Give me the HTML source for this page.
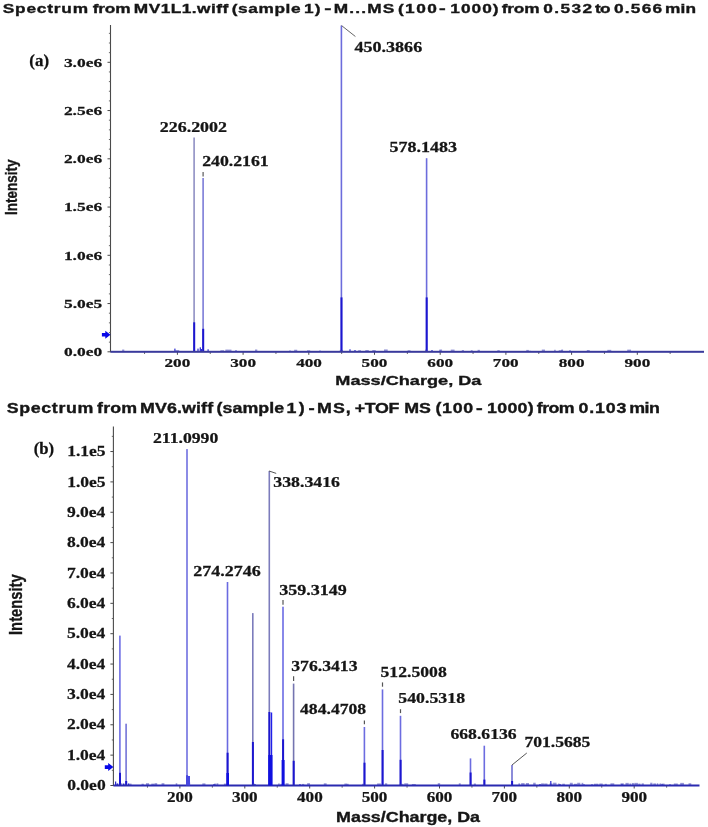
<!DOCTYPE html>
<html><head><meta charset="utf-8"><title>Mass spectra</title>
<style>html,body{margin:0;padding:0;background:#fff;} svg{display:block;} text{stroke-width:0.25px;} text.s{stroke-width:0.35px;}</style></head>
<body><svg width="708" height="827" viewBox="0 0 708 827">
<rect width="708" height="827" fill="#fff"/>
<line x1="110.50" y1="25.00" x2="110.50" y2="352.30" stroke="#4a4a4a" stroke-width="1.1"/>
<line x1="107.50" y1="351.80" x2="110.50" y2="351.80" stroke="#4a4a4a" stroke-width="1"/>
<line x1="108.90" y1="342.15" x2="110.50" y2="342.15" stroke="#5a5a5a" stroke-width="0.9"/>
<line x1="108.90" y1="332.50" x2="110.50" y2="332.50" stroke="#5a5a5a" stroke-width="0.9"/>
<line x1="108.90" y1="322.85" x2="110.50" y2="322.85" stroke="#5a5a5a" stroke-width="0.9"/>
<line x1="108.90" y1="313.20" x2="110.50" y2="313.20" stroke="#5a5a5a" stroke-width="0.9"/>
<line x1="107.50" y1="303.55" x2="110.50" y2="303.55" stroke="#4a4a4a" stroke-width="1"/>
<line x1="108.90" y1="293.90" x2="110.50" y2="293.90" stroke="#5a5a5a" stroke-width="0.9"/>
<line x1="108.90" y1="284.25" x2="110.50" y2="284.25" stroke="#5a5a5a" stroke-width="0.9"/>
<line x1="108.90" y1="274.60" x2="110.50" y2="274.60" stroke="#5a5a5a" stroke-width="0.9"/>
<line x1="108.90" y1="264.95" x2="110.50" y2="264.95" stroke="#5a5a5a" stroke-width="0.9"/>
<line x1="107.50" y1="255.30" x2="110.50" y2="255.30" stroke="#4a4a4a" stroke-width="1"/>
<line x1="108.90" y1="245.65" x2="110.50" y2="245.65" stroke="#5a5a5a" stroke-width="0.9"/>
<line x1="108.90" y1="236.00" x2="110.50" y2="236.00" stroke="#5a5a5a" stroke-width="0.9"/>
<line x1="108.90" y1="226.35" x2="110.50" y2="226.35" stroke="#5a5a5a" stroke-width="0.9"/>
<line x1="108.90" y1="216.70" x2="110.50" y2="216.70" stroke="#5a5a5a" stroke-width="0.9"/>
<line x1="107.50" y1="207.05" x2="110.50" y2="207.05" stroke="#4a4a4a" stroke-width="1"/>
<line x1="108.90" y1="197.40" x2="110.50" y2="197.40" stroke="#5a5a5a" stroke-width="0.9"/>
<line x1="108.90" y1="187.75" x2="110.50" y2="187.75" stroke="#5a5a5a" stroke-width="0.9"/>
<line x1="108.90" y1="178.10" x2="110.50" y2="178.10" stroke="#5a5a5a" stroke-width="0.9"/>
<line x1="108.90" y1="168.45" x2="110.50" y2="168.45" stroke="#5a5a5a" stroke-width="0.9"/>
<line x1="107.50" y1="158.80" x2="110.50" y2="158.80" stroke="#4a4a4a" stroke-width="1"/>
<line x1="108.90" y1="149.15" x2="110.50" y2="149.15" stroke="#5a5a5a" stroke-width="0.9"/>
<line x1="108.90" y1="139.50" x2="110.50" y2="139.50" stroke="#5a5a5a" stroke-width="0.9"/>
<line x1="108.90" y1="129.85" x2="110.50" y2="129.85" stroke="#5a5a5a" stroke-width="0.9"/>
<line x1="108.90" y1="120.20" x2="110.50" y2="120.20" stroke="#5a5a5a" stroke-width="0.9"/>
<line x1="107.50" y1="110.55" x2="110.50" y2="110.55" stroke="#4a4a4a" stroke-width="1"/>
<line x1="108.90" y1="100.90" x2="110.50" y2="100.90" stroke="#5a5a5a" stroke-width="0.9"/>
<line x1="108.90" y1="91.25" x2="110.50" y2="91.25" stroke="#5a5a5a" stroke-width="0.9"/>
<line x1="108.90" y1="81.60" x2="110.50" y2="81.60" stroke="#5a5a5a" stroke-width="0.9"/>
<line x1="108.90" y1="71.95" x2="110.50" y2="71.95" stroke="#5a5a5a" stroke-width="0.9"/>
<line x1="107.50" y1="62.30" x2="110.50" y2="62.30" stroke="#4a4a4a" stroke-width="1"/>
<line x1="108.90" y1="52.65" x2="110.50" y2="52.65" stroke="#5a5a5a" stroke-width="0.9"/>
<line x1="108.90" y1="43.00" x2="110.50" y2="43.00" stroke="#5a5a5a" stroke-width="0.9"/>
<line x1="108.90" y1="33.35" x2="110.50" y2="33.35" stroke="#5a5a5a" stroke-width="0.9"/>
<line x1="144.55" y1="351.80" x2="144.55" y2="354.00" stroke="#5a5a5a" stroke-width="0.9"/>
<line x1="177.40" y1="351.80" x2="177.40" y2="354.80" stroke="#4a4a4a" stroke-width="1"/>
<line x1="210.25" y1="351.80" x2="210.25" y2="354.00" stroke="#5a5a5a" stroke-width="0.9"/>
<line x1="243.10" y1="351.80" x2="243.10" y2="354.80" stroke="#4a4a4a" stroke-width="1"/>
<line x1="275.95" y1="351.80" x2="275.95" y2="354.00" stroke="#5a5a5a" stroke-width="0.9"/>
<line x1="308.80" y1="351.80" x2="308.80" y2="354.80" stroke="#4a4a4a" stroke-width="1"/>
<line x1="341.65" y1="351.80" x2="341.65" y2="354.00" stroke="#5a5a5a" stroke-width="0.9"/>
<line x1="374.50" y1="351.80" x2="374.50" y2="354.80" stroke="#4a4a4a" stroke-width="1"/>
<line x1="407.35" y1="351.80" x2="407.35" y2="354.00" stroke="#5a5a5a" stroke-width="0.9"/>
<line x1="440.20" y1="351.80" x2="440.20" y2="354.80" stroke="#4a4a4a" stroke-width="1"/>
<line x1="473.05" y1="351.80" x2="473.05" y2="354.00" stroke="#5a5a5a" stroke-width="0.9"/>
<line x1="505.90" y1="351.80" x2="505.90" y2="354.80" stroke="#4a4a4a" stroke-width="1"/>
<line x1="538.75" y1="351.80" x2="538.75" y2="354.00" stroke="#5a5a5a" stroke-width="0.9"/>
<line x1="571.60" y1="351.80" x2="571.60" y2="354.80" stroke="#4a4a4a" stroke-width="1"/>
<line x1="604.45" y1="351.80" x2="604.45" y2="354.00" stroke="#5a5a5a" stroke-width="0.9"/>
<line x1="637.30" y1="351.80" x2="637.30" y2="354.80" stroke="#4a4a4a" stroke-width="1"/>
<line x1="670.15" y1="351.80" x2="670.15" y2="354.00" stroke="#5a5a5a" stroke-width="0.9"/>
<rect x="193.30" y="137.50" width="1.60" height="214.30" fill="#9090c4"/>
<rect x="193.20" y="322.30" width="2.00" height="29.50" fill="#1c16d0"/>
<rect x="202.30" y="178.00" width="1.60" height="173.80" fill="#7c7cd8"/>
<rect x="202.20" y="328.80" width="2.00" height="23.00" fill="#1c16d0"/>
<rect x="340.60" y="25.50" width="1.60" height="326.30" fill="#6c6cdc"/>
<rect x="340.50" y="297.40" width="2.00" height="54.40" fill="#1c16d0"/>
<rect x="425.80" y="158.20" width="1.60" height="193.60" fill="#6c6cdc"/>
<rect x="425.70" y="297.40" width="2.00" height="54.40" fill="#1c16d0"/>
<rect x="122.14" y="349.55" width="2.15" height="2.25" fill="#3c3cb4" fill-opacity="0.55"/>
<rect x="175.34" y="350.10" width="3.91" height="1.70" fill="#3c3cb4" fill-opacity="0.55"/>
<rect x="220.38" y="350.24" width="3.63" height="1.56" fill="#3c3cb4" fill-opacity="0.55"/>
<rect x="225.35" y="349.58" width="2.53" height="2.22" fill="#3c3cb4" fill-opacity="0.55"/>
<rect x="227.80" y="349.61" width="3.68" height="2.19" fill="#3c3cb4" fill-opacity="0.55"/>
<rect x="255.02" y="349.52" width="2.28" height="2.28" fill="#3c3cb4" fill-opacity="0.55"/>
<rect x="294.16" y="349.75" width="3.08" height="2.05" fill="#3c3cb4" fill-opacity="0.55"/>
<rect x="307.01" y="350.25" width="3.19" height="1.55" fill="#3c3cb4" fill-opacity="0.55"/>
<rect x="339.76" y="349.91" width="3.25" height="1.89" fill="#3c3cb4" fill-opacity="0.55"/>
<rect x="358.19" y="350.19" width="2.82" height="1.61" fill="#3c3cb4" fill-opacity="0.55"/>
<rect x="365.28" y="350.05" width="3.52" height="1.75" fill="#3c3cb4" fill-opacity="0.55"/>
<rect x="372.24" y="350.04" width="3.48" height="1.76" fill="#3c3cb4" fill-opacity="0.55"/>
<rect x="384.00" y="349.45" width="3.70" height="2.35" fill="#3c3cb4" fill-opacity="0.55"/>
<rect x="407.57" y="350.24" width="2.97" height="1.56" fill="#3c3cb4" fill-opacity="0.55"/>
<rect x="425.07" y="349.63" width="1.93" height="2.17" fill="#3c3cb4" fill-opacity="0.55"/>
<rect x="439.38" y="349.52" width="2.69" height="2.28" fill="#3c3cb4" fill-opacity="0.55"/>
<rect x="450.77" y="349.59" width="3.80" height="2.21" fill="#3c3cb4" fill-opacity="0.55"/>
<rect x="461.80" y="350.06" width="2.17" height="1.74" fill="#3c3cb4" fill-opacity="0.55"/>
<rect x="470.81" y="350.19" width="1.81" height="1.61" fill="#3c3cb4" fill-opacity="0.55"/>
<rect x="477.57" y="349.85" width="2.29" height="1.95" fill="#3c3cb4" fill-opacity="0.55"/>
<rect x="497.33" y="350.14" width="2.43" height="1.66" fill="#3c3cb4" fill-opacity="0.55"/>
<rect x="526.29" y="349.92" width="2.56" height="1.88" fill="#3c3cb4" fill-opacity="0.55"/>
<rect x="541.81" y="349.57" width="3.16" height="2.23" fill="#3c3cb4" fill-opacity="0.55"/>
<rect x="554.17" y="349.77" width="1.51" height="2.03" fill="#3c3cb4" fill-opacity="0.55"/>
<rect x="558.73" y="350.21" width="3.70" height="1.59" fill="#3c3cb4" fill-opacity="0.55"/>
<rect x="561.27" y="349.54" width="1.80" height="2.26" fill="#3c3cb4" fill-opacity="0.55"/>
<rect x="586.81" y="350.01" width="2.91" height="1.79" fill="#3c3cb4" fill-opacity="0.55"/>
<rect x="607.31" y="349.85" width="3.93" height="1.95" fill="#3c3cb4" fill-opacity="0.55"/>
<rect x="627.23" y="349.63" width="3.79" height="2.17" fill="#3c3cb4" fill-opacity="0.55"/>
<rect x="174.30" y="348.60" width="1.20" height="3.20" fill="#2a2ad0"/>
<rect x="197.40" y="348.60" width="1.20" height="3.20" fill="#2a2ad0"/>
<rect x="199.70" y="347.30" width="1.20" height="4.50" fill="#2a2ad0"/>
<rect x="200.90" y="349.00" width="1.20" height="2.80" fill="#2a2ad0"/>
<rect x="207.50" y="349.30" width="1.20" height="2.50" fill="#2a2ad0"/>
<rect x="235.40" y="350.30" width="1.20" height="1.50" fill="#2a2ad0"/>
<rect x="289.40" y="350.60" width="1.20" height="1.20" fill="#2a2ad0"/>
<rect x="319.40" y="350.60" width="1.20" height="1.20" fill="#2a2ad0"/>
<rect x="349.40" y="349.30" width="1.20" height="2.50" fill="#2a2ad0"/>
<rect x="354.40" y="350.00" width="1.20" height="1.80" fill="#2a2ad0"/>
<rect x="431.40" y="350.00" width="1.20" height="1.80" fill="#2a2ad0"/>
<rect x="439.40" y="350.60" width="1.20" height="1.20" fill="#2a2ad0"/>
<rect x="529.40" y="350.80" width="1.20" height="1.00" fill="#2a2ad0"/>
<rect x="569.40" y="350.40" width="1.20" height="1.40" fill="#2a2ad0"/>
<rect x="110.50" y="350.80" width="593.50" height="2.00" fill="#3a3a9c"/>
<path d="M101.9,333.0 H105.3 V330.8 L110.5,334.8 L105.3,338.8 V336.6 H101.9 Z" fill="#0808e8"/>
<line x1="203.10" y1="172.00" x2="203.10" y2="176.60" stroke="#666" stroke-width="1.3"/>
<line x1="341.60" y1="25.60" x2="355.40" y2="36.50" stroke="#666" stroke-width="1.0"/>
<line x1="113.40" y1="426.40" x2="113.40" y2="786.00" stroke="#4a4a4a" stroke-width="1.1"/>
<line x1="110.40" y1="785.50" x2="113.40" y2="785.50" stroke="#4a4a4a" stroke-width="1"/>
<line x1="111.80" y1="770.32" x2="113.40" y2="770.32" stroke="#5a5a5a" stroke-width="0.9"/>
<line x1="110.40" y1="755.14" x2="113.40" y2="755.14" stroke="#4a4a4a" stroke-width="1"/>
<line x1="111.80" y1="739.96" x2="113.40" y2="739.96" stroke="#5a5a5a" stroke-width="0.9"/>
<line x1="110.40" y1="724.78" x2="113.40" y2="724.78" stroke="#4a4a4a" stroke-width="1"/>
<line x1="111.80" y1="709.60" x2="113.40" y2="709.60" stroke="#5a5a5a" stroke-width="0.9"/>
<line x1="110.40" y1="694.42" x2="113.40" y2="694.42" stroke="#4a4a4a" stroke-width="1"/>
<line x1="111.80" y1="679.24" x2="113.40" y2="679.24" stroke="#5a5a5a" stroke-width="0.9"/>
<line x1="110.40" y1="664.06" x2="113.40" y2="664.06" stroke="#4a4a4a" stroke-width="1"/>
<line x1="111.80" y1="648.88" x2="113.40" y2="648.88" stroke="#5a5a5a" stroke-width="0.9"/>
<line x1="110.40" y1="633.70" x2="113.40" y2="633.70" stroke="#4a4a4a" stroke-width="1"/>
<line x1="111.80" y1="618.52" x2="113.40" y2="618.52" stroke="#5a5a5a" stroke-width="0.9"/>
<line x1="110.40" y1="603.34" x2="113.40" y2="603.34" stroke="#4a4a4a" stroke-width="1"/>
<line x1="111.80" y1="588.16" x2="113.40" y2="588.16" stroke="#5a5a5a" stroke-width="0.9"/>
<line x1="110.40" y1="572.98" x2="113.40" y2="572.98" stroke="#4a4a4a" stroke-width="1"/>
<line x1="111.80" y1="557.80" x2="113.40" y2="557.80" stroke="#5a5a5a" stroke-width="0.9"/>
<line x1="110.40" y1="542.62" x2="113.40" y2="542.62" stroke="#4a4a4a" stroke-width="1"/>
<line x1="111.80" y1="527.44" x2="113.40" y2="527.44" stroke="#5a5a5a" stroke-width="0.9"/>
<line x1="110.40" y1="512.26" x2="113.40" y2="512.26" stroke="#4a4a4a" stroke-width="1"/>
<line x1="111.80" y1="497.08" x2="113.40" y2="497.08" stroke="#5a5a5a" stroke-width="0.9"/>
<line x1="110.40" y1="481.90" x2="113.40" y2="481.90" stroke="#4a4a4a" stroke-width="1"/>
<line x1="111.80" y1="466.72" x2="113.40" y2="466.72" stroke="#5a5a5a" stroke-width="0.9"/>
<line x1="110.40" y1="451.54" x2="113.40" y2="451.54" stroke="#4a4a4a" stroke-width="1"/>
<line x1="111.80" y1="436.36" x2="113.40" y2="436.36" stroke="#5a5a5a" stroke-width="0.9"/>
<line x1="147.45" y1="785.50" x2="147.45" y2="787.70" stroke="#5a5a5a" stroke-width="0.9"/>
<line x1="179.90" y1="785.50" x2="179.90" y2="788.50" stroke="#4a4a4a" stroke-width="1"/>
<line x1="212.35" y1="785.50" x2="212.35" y2="787.70" stroke="#5a5a5a" stroke-width="0.9"/>
<line x1="244.80" y1="785.50" x2="244.80" y2="788.50" stroke="#4a4a4a" stroke-width="1"/>
<line x1="277.25" y1="785.50" x2="277.25" y2="787.70" stroke="#5a5a5a" stroke-width="0.9"/>
<line x1="309.70" y1="785.50" x2="309.70" y2="788.50" stroke="#4a4a4a" stroke-width="1"/>
<line x1="342.15" y1="785.50" x2="342.15" y2="787.70" stroke="#5a5a5a" stroke-width="0.9"/>
<line x1="374.60" y1="785.50" x2="374.60" y2="788.50" stroke="#4a4a4a" stroke-width="1"/>
<line x1="407.05" y1="785.50" x2="407.05" y2="787.70" stroke="#5a5a5a" stroke-width="0.9"/>
<line x1="439.50" y1="785.50" x2="439.50" y2="788.50" stroke="#4a4a4a" stroke-width="1"/>
<line x1="471.95" y1="785.50" x2="471.95" y2="787.70" stroke="#5a5a5a" stroke-width="0.9"/>
<line x1="504.40" y1="785.50" x2="504.40" y2="788.50" stroke="#4a4a4a" stroke-width="1"/>
<line x1="536.85" y1="785.50" x2="536.85" y2="787.70" stroke="#5a5a5a" stroke-width="0.9"/>
<line x1="569.30" y1="785.50" x2="569.30" y2="788.50" stroke="#4a4a4a" stroke-width="1"/>
<line x1="601.75" y1="785.50" x2="601.75" y2="787.70" stroke="#5a5a5a" stroke-width="0.9"/>
<line x1="634.20" y1="785.50" x2="634.20" y2="788.50" stroke="#4a4a4a" stroke-width="1"/>
<line x1="666.65" y1="785.50" x2="666.65" y2="787.70" stroke="#5a5a5a" stroke-width="0.9"/>
<rect x="119.10" y="635.60" width="1.60" height="149.90" fill="#6e6ee4"/>
<rect x="119.00" y="772.80" width="2.00" height="12.70" fill="#1c16d0"/>
<rect x="125.30" y="723.70" width="1.60" height="61.80" fill="#7474d8"/>
<rect x="125.20" y="781.00" width="2.00" height="4.50" fill="#1c16d0"/>
<rect x="186.20" y="449.10" width="1.60" height="336.40" fill="#7070e0"/>
<rect x="186.10" y="775.50" width="2.00" height="10.00" fill="#1c16d0"/>
<rect x="226.70" y="582.00" width="1.60" height="203.50" fill="#6a6ae0"/>
<rect x="226.60" y="752.70" width="2.00" height="32.80" fill="#1c16d0"/>
<rect x="252.00" y="613.10" width="1.60" height="172.40" fill="#7c7cbc"/>
<rect x="251.90" y="742.00" width="2.00" height="43.50" fill="#1c16d0"/>
<rect x="268.50" y="471.00" width="1.60" height="314.50" fill="#7c7cbc"/>
<rect x="268.40" y="712.00" width="2.00" height="73.50" fill="#1c16d0"/>
<rect x="282.20" y="606.70" width="1.60" height="178.80" fill="#6c6ce4"/>
<rect x="282.10" y="739.30" width="2.00" height="46.20" fill="#1c16d0"/>
<rect x="292.80" y="683.60" width="1.60" height="101.90" fill="#7474b0"/>
<rect x="292.70" y="760.80" width="2.00" height="24.70" fill="#1c16d0"/>
<rect x="363.60" y="727.00" width="1.60" height="58.50" fill="#6c6ce0"/>
<rect x="363.50" y="762.70" width="2.00" height="22.80" fill="#1c16d0"/>
<rect x="381.70" y="689.40" width="1.60" height="96.10" fill="#6c6ce0"/>
<rect x="381.60" y="750.00" width="2.00" height="35.50" fill="#1c16d0"/>
<rect x="399.70" y="715.80" width="1.60" height="69.70" fill="#6c6ce0"/>
<rect x="399.60" y="759.80" width="2.00" height="25.70" fill="#1c16d0"/>
<rect x="469.70" y="758.40" width="1.60" height="27.10" fill="#6c6ce0"/>
<rect x="469.60" y="772.50" width="2.00" height="13.00" fill="#1c16d0"/>
<rect x="483.50" y="745.70" width="1.60" height="39.80" fill="#6c6ce0"/>
<rect x="483.40" y="779.60" width="2.00" height="5.90" fill="#1c16d0"/>
<rect x="511.20" y="765.00" width="1.60" height="20.50" fill="#7070d0"/>
<rect x="511.10" y="781.00" width="2.00" height="4.50" fill="#1c16d0"/>
<rect x="115.40" y="783.67" width="3.13" height="1.83" fill="#3c3cb4" fill-opacity="0.55"/>
<rect x="120.71" y="783.26" width="1.59" height="2.24" fill="#3c3cb4" fill-opacity="0.55"/>
<rect x="124.02" y="783.74" width="2.56" height="1.76" fill="#3c3cb4" fill-opacity="0.55"/>
<rect x="128.50" y="783.59" width="3.07" height="1.91" fill="#3c3cb4" fill-opacity="0.55"/>
<rect x="141.54" y="783.71" width="2.27" height="1.79" fill="#3c3cb4" fill-opacity="0.55"/>
<rect x="145.99" y="783.17" width="3.10" height="2.33" fill="#3c3cb4" fill-opacity="0.55"/>
<rect x="151.29" y="783.61" width="3.20" height="1.89" fill="#3c3cb4" fill-opacity="0.55"/>
<rect x="154.57" y="783.16" width="2.63" height="2.34" fill="#3c3cb4" fill-opacity="0.55"/>
<rect x="161.57" y="783.18" width="2.81" height="2.32" fill="#3c3cb4" fill-opacity="0.55"/>
<rect x="175.69" y="783.28" width="1.60" height="2.22" fill="#3c3cb4" fill-opacity="0.55"/>
<rect x="202.33" y="783.37" width="3.12" height="2.13" fill="#3c3cb4" fill-opacity="0.55"/>
<rect x="214.17" y="783.58" width="1.92" height="1.92" fill="#3c3cb4" fill-opacity="0.55"/>
<rect x="216.52" y="783.31" width="1.82" height="2.19" fill="#3c3cb4" fill-opacity="0.55"/>
<rect x="223.88" y="783.60" width="2.87" height="1.90" fill="#3c3cb4" fill-opacity="0.55"/>
<rect x="252.41" y="783.62" width="2.42" height="1.88" fill="#3c3cb4" fill-opacity="0.55"/>
<rect x="278.12" y="783.43" width="1.66" height="2.07" fill="#3c3cb4" fill-opacity="0.55"/>
<rect x="280.33" y="783.85" width="2.35" height="1.65" fill="#3c3cb4" fill-opacity="0.55"/>
<rect x="282.48" y="783.86" width="1.75" height="1.64" fill="#3c3cb4" fill-opacity="0.55"/>
<rect x="285.57" y="783.21" width="3.04" height="2.29" fill="#3c3cb4" fill-opacity="0.55"/>
<rect x="301.86" y="783.91" width="2.36" height="1.59" fill="#3c3cb4" fill-opacity="0.55"/>
<rect x="307.14" y="783.14" width="2.82" height="2.36" fill="#3c3cb4" fill-opacity="0.55"/>
<rect x="323.79" y="783.31" width="2.83" height="2.19" fill="#3c3cb4" fill-opacity="0.55"/>
<rect x="344.38" y="783.53" width="2.39" height="1.97" fill="#3c3cb4" fill-opacity="0.55"/>
<rect x="346.47" y="783.75" width="2.15" height="1.75" fill="#3c3cb4" fill-opacity="0.55"/>
<rect x="361.95" y="783.80" width="1.99" height="1.70" fill="#3c3cb4" fill-opacity="0.55"/>
<rect x="377.10" y="783.41" width="3.77" height="2.09" fill="#3c3cb4" fill-opacity="0.55"/>
<rect x="384.88" y="783.29" width="2.33" height="2.21" fill="#3c3cb4" fill-opacity="0.55"/>
<rect x="399.82" y="783.86" width="3.76" height="1.64" fill="#3c3cb4" fill-opacity="0.55"/>
<rect x="404.24" y="783.26" width="3.95" height="2.24" fill="#3c3cb4" fill-opacity="0.55"/>
<rect x="411.86" y="783.99" width="3.93" height="1.51" fill="#3c3cb4" fill-opacity="0.55"/>
<rect x="437.75" y="783.18" width="2.38" height="2.32" fill="#3c3cb4" fill-opacity="0.55"/>
<rect x="458.79" y="783.28" width="1.93" height="2.22" fill="#3c3cb4" fill-opacity="0.55"/>
<rect x="473.79" y="783.50" width="2.12" height="2.00" fill="#3c3cb4" fill-opacity="0.55"/>
<rect x="518.42" y="783.33" width="1.68" height="2.17" fill="#3c3cb4" fill-opacity="0.55"/>
<rect x="521.15" y="783.07" width="3.46" height="2.43" fill="#3c3cb4" fill-opacity="0.55"/>
<rect x="525.84" y="783.01" width="3.15" height="2.49" fill="#3c3cb4" fill-opacity="0.55"/>
<rect x="533.17" y="782.74" width="2.50" height="2.76" fill="#3c3cb4" fill-opacity="0.55"/>
<rect x="541.13" y="783.35" width="2.79" height="2.15" fill="#3c3cb4" fill-opacity="0.55"/>
<rect x="544.15" y="783.48" width="3.31" height="2.02" fill="#3c3cb4" fill-opacity="0.55"/>
<rect x="549.52" y="783.46" width="3.06" height="2.04" fill="#3c3cb4" fill-opacity="0.55"/>
<rect x="553.06" y="782.70" width="3.47" height="2.80" fill="#3c3cb4" fill-opacity="0.55"/>
<rect x="557.98" y="783.54" width="1.60" height="1.96" fill="#3c3cb4" fill-opacity="0.55"/>
<rect x="562.31" y="783.70" width="2.56" height="1.80" fill="#3c3cb4" fill-opacity="0.55"/>
<rect x="569.82" y="782.77" width="2.93" height="2.73" fill="#3c3cb4" fill-opacity="0.55"/>
<rect x="573.93" y="783.78" width="3.22" height="1.72" fill="#3c3cb4" fill-opacity="0.55"/>
<rect x="577.20" y="782.75" width="3.09" height="2.75" fill="#3c3cb4" fill-opacity="0.55"/>
<rect x="581.61" y="782.85" width="1.67" height="2.65" fill="#3c3cb4" fill-opacity="0.55"/>
<rect x="593.99" y="783.70" width="2.82" height="1.80" fill="#3c3cb4" fill-opacity="0.55"/>
<rect x="596.71" y="783.66" width="1.63" height="1.84" fill="#3c3cb4" fill-opacity="0.55"/>
<rect x="599.31" y="783.49" width="3.40" height="2.01" fill="#3c3cb4" fill-opacity="0.55"/>
<rect x="604.72" y="783.83" width="2.13" height="1.67" fill="#3c3cb4" fill-opacity="0.55"/>
<rect x="610.42" y="783.29" width="3.84" height="2.21" fill="#3c3cb4" fill-opacity="0.55"/>
<rect x="620.53" y="783.26" width="3.22" height="2.24" fill="#3c3cb4" fill-opacity="0.55"/>
<rect x="625.48" y="782.88" width="3.27" height="2.62" fill="#3c3cb4" fill-opacity="0.55"/>
<rect x="629.39" y="783.44" width="1.64" height="2.06" fill="#3c3cb4" fill-opacity="0.55"/>
<rect x="631.78" y="782.98" width="2.14" height="2.52" fill="#3c3cb4" fill-opacity="0.55"/>
<rect x="634.27" y="782.87" width="3.68" height="2.63" fill="#3c3cb4" fill-opacity="0.55"/>
<rect x="638.28" y="783.57" width="2.23" height="1.93" fill="#3c3cb4" fill-opacity="0.55"/>
<rect x="641.66" y="783.33" width="2.16" height="2.17" fill="#3c3cb4" fill-opacity="0.55"/>
<rect x="650.19" y="782.72" width="2.27" height="2.78" fill="#3c3cb4" fill-opacity="0.55"/>
<rect x="653.26" y="783.40" width="2.69" height="2.10" fill="#3c3cb4" fill-opacity="0.55"/>
<rect x="656.76" y="783.26" width="1.51" height="2.24" fill="#3c3cb4" fill-opacity="0.55"/>
<rect x="659.56" y="783.38" width="1.60" height="2.12" fill="#3c3cb4" fill-opacity="0.55"/>
<rect x="661.62" y="783.58" width="2.96" height="1.92" fill="#3c3cb4" fill-opacity="0.55"/>
<rect x="673.82" y="783.47" width="3.96" height="2.03" fill="#3c3cb4" fill-opacity="0.55"/>
<rect x="680.20" y="782.87" width="3.73" height="2.63" fill="#3c3cb4" fill-opacity="0.55"/>
<rect x="688.52" y="783.24" width="2.76" height="2.26" fill="#3c3cb4" fill-opacity="0.55"/>
<rect x="115.00" y="781.50" width="1.20" height="4.00" fill="#2a2ad0"/>
<rect x="116.90" y="783.50" width="1.20" height="2.00" fill="#2a2ad0"/>
<rect x="122.90" y="783.50" width="1.20" height="2.00" fill="#2a2ad0"/>
<rect x="127.90" y="783.50" width="1.20" height="2.00" fill="#2a2ad0"/>
<rect x="188.90" y="782.50" width="1.20" height="3.00" fill="#2a2ad0"/>
<rect x="213.40" y="784.00" width="1.20" height="1.50" fill="#2a2ad0"/>
<rect x="254.40" y="784.00" width="1.20" height="1.50" fill="#2a2ad0"/>
<rect x="299.40" y="784.00" width="1.20" height="1.50" fill="#2a2ad0"/>
<rect x="539.40" y="784.00" width="1.20" height="1.50" fill="#2a2ad0"/>
<rect x="550.20" y="781.00" width="1.20" height="4.50" fill="#2a2ad0"/>
<rect x="559.40" y="784.00" width="1.20" height="1.50" fill="#2a2ad0"/>
<rect x="583.40" y="784.30" width="1.20" height="1.20" fill="#2a2ad0"/>
<rect x="591.40" y="784.30" width="1.20" height="1.20" fill="#2a2ad0"/>
<rect x="621.40" y="784.30" width="1.20" height="1.20" fill="#2a2ad0"/>
<rect x="661.40" y="784.30" width="1.20" height="1.20" fill="#2a2ad0"/>
<rect x="669.40" y="784.30" width="1.20" height="1.20" fill="#2a2ad0"/>
<rect x="113.40" y="784.50" width="586.10" height="2.00" fill="#2a2ab0"/>
<path d="M104.8,765.3 H108.2 V763.1 L113.4,767.1 L108.2,771.1 V768.9 H104.8 Z" fill="#0808e8"/>
<rect x="270.90" y="712.50" width="1.30" height="73.00" fill="#2020e8"/>
<rect x="268.30" y="755.00" width="4.20" height="30.50" fill="#1010e0"/>
<rect x="281.60" y="760.00" width="3.00" height="25.50" fill="#1010e0"/>
<rect x="186.00" y="776.00" width="4.00" height="9.50" fill="#4848e0"/>
<rect x="226.40" y="773.00" width="2.60" height="12.50" fill="#1010e0"/>
<line x1="283.00" y1="599.90" x2="283.00" y2="604.70" stroke="#555" stroke-width="1.2"/>
<line x1="364.40" y1="720.50" x2="364.40" y2="724.30" stroke="#555" stroke-width="1.2"/>
<line x1="382.50" y1="682.40" x2="382.50" y2="686.70" stroke="#555" stroke-width="1.2"/>
<line x1="400.50" y1="709.20" x2="400.50" y2="713.10" stroke="#555" stroke-width="1.2"/>
<line x1="293.60" y1="676.20" x2="293.60" y2="680.90" stroke="#555" stroke-width="1.2"/>
<line x1="269.10" y1="471.00" x2="276.20" y2="473.40" stroke="#555" stroke-width="1.0"/>
<line x1="512.00" y1="765.00" x2="526.80" y2="753.00" stroke="#555" stroke-width="1.0"/>
<text transform="translate(2.70,12.70) scale(1.3000,1)" font-family='"Liberation Sans", Arial, sans-serif' font-weight="bold" font-size="13.30" letter-spacing="0.629" class="s" fill="#161616" stroke="#161616">Spectrum</text>
<text transform="translate(92.70,12.70) scale(1.3000,1)" font-family='"Liberation Sans", Arial, sans-serif' font-weight="bold" font-size="13.30" letter-spacing="-0.142" class="s" fill="#161616" stroke="#161616">from</text>
<text transform="translate(133.84,12.70) scale(1.3000,1)" font-family='"Liberation Sans", Arial, sans-serif' font-weight="bold" font-size="13.30" letter-spacing="0.361" class="s" fill="#161616" stroke="#161616">MV1L1.wiff</text>
<text transform="translate(231.74,12.70) scale(1.3000,1)" font-family='"Liberation Sans", Arial, sans-serif' font-weight="bold" font-size="13.30" letter-spacing="0.463" class="s" fill="#161616" stroke="#161616">(sample</text>
<text transform="translate(304.11,12.70) scale(1.3000,1)" font-family='"Liberation Sans", Arial, sans-serif' font-weight="bold" font-size="13.30" letter-spacing="0.751" class="s" fill="#161616" stroke="#161616">1)</text>
<text transform="translate(324.25,12.70) scale(1.6287,1)" font-family='"Liberation Sans", Arial, sans-serif' font-weight="bold" font-size="13.30" letter-spacing="0.000" class="s" fill="#161616" stroke="#161616">-</text>
<text transform="translate(333.64,12.70) scale(1.3000,1)" font-family='"Liberation Sans", Arial, sans-serif' font-weight="bold" font-size="13.30" letter-spacing="0.920" class="s" fill="#161616" stroke="#161616">M...MS</text>
<text transform="translate(397.94,12.70) scale(1.3000,1)" font-family='"Liberation Sans", Arial, sans-serif' font-weight="bold" font-size="13.30" letter-spacing="1.094" class="s" fill="#161616" stroke="#161616">(100</text>
<text transform="translate(439.12,12.70) scale(1.5102,1)" font-family='"Liberation Sans", Arial, sans-serif' font-weight="bold" font-size="13.30" letter-spacing="0.000" class="s" fill="#161616" stroke="#161616">-</text>
<text transform="translate(450.31,12.70) scale(1.3000,1)" font-family='"Liberation Sans", Arial, sans-serif' font-weight="bold" font-size="13.30" letter-spacing="0.794" class="s" fill="#161616" stroke="#161616">1000)</text>
<text transform="translate(501.70,12.70) scale(1.3000,1)" font-family='"Liberation Sans", Arial, sans-serif' font-weight="bold" font-size="13.30" letter-spacing="-0.142" class="s" fill="#161616" stroke="#161616">from</text>
<text transform="translate(543.22,12.70) scale(1.3000,1)" font-family='"Liberation Sans", Arial, sans-serif' font-weight="bold" font-size="13.30" letter-spacing="1.079" class="s" fill="#161616" stroke="#161616">0.532</text>
<text transform="translate(594.89,12.70) scale(1.3000,1)" font-family='"Liberation Sans", Arial, sans-serif' font-weight="bold" font-size="13.30" letter-spacing="-0.487" class="s" fill="#161616" stroke="#161616">to</text>
<text transform="translate(613.92,12.70) scale(1.3000,1)" font-family='"Liberation Sans", Arial, sans-serif' font-weight="bold" font-size="13.30" letter-spacing="0.950" class="s" fill="#161616" stroke="#161616">0.566</text>
<text transform="translate(665.06,12.70) scale(1.3000,1)" font-family='"Liberation Sans", Arial, sans-serif' font-weight="bold" font-size="13.30" letter-spacing="0.105" class="s" fill="#161616" stroke="#161616">min</text>
<text transform="translate(6.69,413.00) scale(1.2200,1)" font-family='"Liberation Sans", Arial, sans-serif' font-weight="bold" font-size="14.60" letter-spacing="0.534" class="s" fill="#161616" stroke="#161616">Spectrum</text>
<text transform="translate(97.10,413.00) scale(1.2200,1)" font-family='"Liberation Sans", Arial, sans-serif' font-weight="bold" font-size="14.60" letter-spacing="0.090" class="s" fill="#161616" stroke="#161616">from</text>
<text transform="translate(140.11,413.00) scale(1.2200,1)" font-family='"Liberation Sans", Arial, sans-serif' font-weight="bold" font-size="14.60" letter-spacing="0.096" class="s" fill="#161616" stroke="#161616">MV6.wiff</text>
<text transform="translate(216.61,413.00) scale(1.2200,1)" font-family='"Liberation Sans", Arial, sans-serif' font-weight="bold" font-size="14.60" letter-spacing="0.024" class="s" fill="#161616" stroke="#161616">(sample</text>
<text transform="translate(286.58,413.00) scale(1.2200,1)" font-family='"Liberation Sans", Arial, sans-serif' font-weight="bold" font-size="14.60" letter-spacing="1.862" class="s" fill="#161616" stroke="#161616">1)</text>
<text transform="translate(308.58,413.00) scale(1.2679,1)" font-family='"Liberation Sans", Arial, sans-serif' font-weight="bold" font-size="14.60" letter-spacing="0.000" class="s" fill="#161616" stroke="#161616">-</text>
<text transform="translate(317.01,413.00) scale(1.2200,1)" font-family='"Liberation Sans", Arial, sans-serif' font-weight="bold" font-size="14.60" letter-spacing="0.867" class="s" fill="#161616" stroke="#161616">MS,</text>
<text transform="translate(354.75,413.00) scale(1.2200,1)" font-family='"Liberation Sans", Arial, sans-serif' font-weight="bold" font-size="14.60" letter-spacing="-0.251" class="s" fill="#161616" stroke="#161616">+TOF</text>
<text transform="translate(404.31,413.00) scale(1.2200,1)" font-family='"Liberation Sans", Arial, sans-serif' font-weight="bold" font-size="14.60" letter-spacing="-0.189" class="s" fill="#161616" stroke="#161616">MS</text>
<text transform="translate(435.51,413.00) scale(1.2200,1)" font-family='"Liberation Sans", Arial, sans-serif' font-weight="bold" font-size="14.60" letter-spacing="0.565" class="s" fill="#161616" stroke="#161616">(100</text>
<text transform="translate(475.92,413.00) scale(1.3758,1)" font-family='"Liberation Sans", Arial, sans-serif' font-weight="bold" font-size="14.60" letter-spacing="0.000" class="s" fill="#161616" stroke="#161616">-</text>
<text transform="translate(486.98,413.00) scale(1.2200,1)" font-family='"Liberation Sans", Arial, sans-serif' font-weight="bold" font-size="14.60" letter-spacing="0.257" class="s" fill="#161616" stroke="#161616">1000)</text>
<text transform="translate(536.80,413.00) scale(1.2200,1)" font-family='"Liberation Sans", Arial, sans-serif' font-weight="bold" font-size="14.60" letter-spacing="-0.457" class="s" fill="#161616" stroke="#161616">from</text>
<text transform="translate(578.40,413.00) scale(1.2200,1)" font-family='"Liberation Sans", Arial, sans-serif' font-weight="bold" font-size="14.60" letter-spacing="0.692" class="s" fill="#161616" stroke="#161616">0.103</text>
<text transform="translate(629.13,413.00) scale(1.2200,1)" font-family='"Liberation Sans", Arial, sans-serif' font-weight="bold" font-size="14.60" letter-spacing="-0.405" class="s" fill="#161616" stroke="#161616">min</text>
<text transform="translate(29.36,65.90) scale(1.0704,1)" font-family='"Liberation Serif", "Times New Roman", serif' font-weight="bold" font-size="15.77" fill="#111" stroke="#111">(a)</text>
<text transform="translate(33.66,453.70) scale(1.0285,1)" font-family='"Liberation Serif", "Times New Roman", serif' font-weight="bold" font-size="16.29" fill="#111" stroke="#111">(b)</text>
<text transform="translate(64.05,356.20) scale(1.3000,1)" font-family='"Liberation Serif", "Times New Roman", serif' font-weight="bold" font-size="13.40" fill="#151515" stroke="#151515">0.0e0</text>
<text transform="translate(64.02,307.95) scale(1.3000,1)" font-family='"Liberation Serif", "Times New Roman", serif' font-weight="bold" font-size="13.40" fill="#151515" stroke="#151515">5.0e5</text>
<text transform="translate(63.89,259.70) scale(1.3000,1)" font-family='"Liberation Serif", "Times New Roman", serif' font-weight="bold" font-size="13.40" fill="#151515" stroke="#151515">1.0e6</text>
<text transform="translate(63.89,211.45) scale(1.3000,1)" font-family='"Liberation Serif", "Times New Roman", serif' font-weight="bold" font-size="13.40" fill="#151515" stroke="#151515">1.5e6</text>
<text transform="translate(63.89,163.20) scale(1.3000,1)" font-family='"Liberation Serif", "Times New Roman", serif' font-weight="bold" font-size="13.40" fill="#151515" stroke="#151515">2.0e6</text>
<text transform="translate(63.89,114.95) scale(1.3000,1)" font-family='"Liberation Serif", "Times New Roman", serif' font-weight="bold" font-size="13.40" fill="#151515" stroke="#151515">2.5e6</text>
<text transform="translate(63.89,66.70) scale(1.3000,1)" font-family='"Liberation Serif", "Times New Roman", serif' font-weight="bold" font-size="13.40" fill="#151515" stroke="#151515">3.0e6</text>
<text transform="translate(67.24,790.20) scale(1.1600,1)" font-family='"Liberation Serif", "Times New Roman", serif' font-weight="bold" font-size="15.10" fill="#151515" stroke="#151515">0.0e0</text>
<text transform="translate(66.90,759.84) scale(1.1600,1)" font-family='"Liberation Serif", "Times New Roman", serif' font-weight="bold" font-size="15.10" fill="#151515" stroke="#151515">1.0e4</text>
<text transform="translate(66.90,729.48) scale(1.1600,1)" font-family='"Liberation Serif", "Times New Roman", serif' font-weight="bold" font-size="15.10" fill="#151515" stroke="#151515">2.0e4</text>
<text transform="translate(66.90,699.12) scale(1.1600,1)" font-family='"Liberation Serif", "Times New Roman", serif' font-weight="bold" font-size="15.10" fill="#151515" stroke="#151515">3.0e4</text>
<text transform="translate(66.90,668.76) scale(1.1600,1)" font-family='"Liberation Serif", "Times New Roman", serif' font-weight="bold" font-size="15.10" fill="#151515" stroke="#151515">4.0e4</text>
<text transform="translate(66.90,638.40) scale(1.1600,1)" font-family='"Liberation Serif", "Times New Roman", serif' font-weight="bold" font-size="15.10" fill="#151515" stroke="#151515">5.0e4</text>
<text transform="translate(66.90,608.04) scale(1.1600,1)" font-family='"Liberation Serif", "Times New Roman", serif' font-weight="bold" font-size="15.10" fill="#151515" stroke="#151515">6.0e4</text>
<text transform="translate(66.90,577.68) scale(1.1600,1)" font-family='"Liberation Serif", "Times New Roman", serif' font-weight="bold" font-size="15.10" fill="#151515" stroke="#151515">7.0e4</text>
<text transform="translate(66.90,547.32) scale(1.1600,1)" font-family='"Liberation Serif", "Times New Roman", serif' font-weight="bold" font-size="15.10" fill="#151515" stroke="#151515">8.0e4</text>
<text transform="translate(66.90,516.96) scale(1.1600,1)" font-family='"Liberation Serif", "Times New Roman", serif' font-weight="bold" font-size="15.10" fill="#151515" stroke="#151515">9.0e4</text>
<text transform="translate(67.21,486.60) scale(1.1600,1)" font-family='"Liberation Serif", "Times New Roman", serif' font-weight="bold" font-size="15.10" fill="#151515" stroke="#151515">1.0e5</text>
<text transform="translate(67.21,456.24) scale(1.1600,1)" font-family='"Liberation Serif", "Times New Roman", serif' font-weight="bold" font-size="15.10" fill="#151515" stroke="#151515">1.1e5</text>
<text transform="translate(164.50,367.10) scale(1.3200,1)" font-family='"Liberation Serif", "Times New Roman", serif' font-weight="bold" font-size="13.00" fill="#151515" stroke="#151515">200</text>
<text transform="translate(167.01,802.00) scale(1.2600,1)" font-family='"Liberation Serif", "Times New Roman", serif' font-weight="bold" font-size="13.60" fill="#151515" stroke="#151515">200</text>
<text transform="translate(230.23,367.10) scale(1.3200,1)" font-family='"Liberation Serif", "Times New Roman", serif' font-weight="bold" font-size="13.00" fill="#151515" stroke="#151515">300</text>
<text transform="translate(231.95,802.00) scale(1.2600,1)" font-family='"Liberation Serif", "Times New Roman", serif' font-weight="bold" font-size="13.60" fill="#151515" stroke="#151515">300</text>
<text transform="translate(296.14,367.10) scale(1.3200,1)" font-family='"Liberation Serif", "Times New Roman", serif' font-weight="bold" font-size="13.00" fill="#151515" stroke="#151515">400</text>
<text transform="translate(297.06,802.00) scale(1.2600,1)" font-family='"Liberation Serif", "Times New Roman", serif' font-weight="bold" font-size="13.60" fill="#151515" stroke="#151515">400</text>
<text transform="translate(361.61,367.10) scale(1.3200,1)" font-family='"Liberation Serif", "Times New Roman", serif' font-weight="bold" font-size="13.00" fill="#151515" stroke="#151515">500</text>
<text transform="translate(361.73,802.00) scale(1.2600,1)" font-family='"Liberation Serif", "Times New Roman", serif' font-weight="bold" font-size="13.60" fill="#151515" stroke="#151515">500</text>
<text transform="translate(427.36,367.10) scale(1.3200,1)" font-family='"Liberation Serif", "Times New Roman", serif' font-weight="bold" font-size="13.00" fill="#151515" stroke="#151515">600</text>
<text transform="translate(426.68,802.00) scale(1.2600,1)" font-family='"Liberation Serif", "Times New Roman", serif' font-weight="bold" font-size="13.60" fill="#151515" stroke="#151515">600</text>
<text transform="translate(492.87,367.10) scale(1.3200,1)" font-family='"Liberation Serif", "Times New Roman", serif' font-weight="bold" font-size="13.00" fill="#151515" stroke="#151515">700</text>
<text transform="translate(491.38,802.00) scale(1.2600,1)" font-family='"Liberation Serif", "Times New Roman", serif' font-weight="bold" font-size="13.60" fill="#151515" stroke="#151515">700</text>
<text transform="translate(558.77,367.10) scale(1.3200,1)" font-family='"Liberation Serif", "Times New Roman", serif' font-weight="bold" font-size="13.00" fill="#151515" stroke="#151515">800</text>
<text transform="translate(556.49,802.00) scale(1.2600,1)" font-family='"Liberation Serif", "Times New Roman", serif' font-weight="bold" font-size="13.60" fill="#151515" stroke="#151515">800</text>
<text transform="translate(624.52,367.10) scale(1.3200,1)" font-family='"Liberation Serif", "Times New Roman", serif' font-weight="bold" font-size="13.00" fill="#151515" stroke="#151515">900</text>
<text transform="translate(621.44,802.00) scale(1.2600,1)" font-family='"Liberation Serif", "Times New Roman", serif' font-weight="bold" font-size="13.60" fill="#151515" stroke="#151515">900</text>
<text transform="translate(335.29,384.70) scale(1.3278,1)" font-family='"Liberation Sans", Arial, sans-serif' font-weight="bold" font-size="13.66" class="s" fill="#161616" stroke="#161616">Mass/Charge, Da</text>
<text transform="translate(336.10,821.80) scale(1.2060,1)" font-family='"Liberation Sans", Arial, sans-serif' font-weight="bold" font-size="14.83" class="s" fill="#161616" stroke="#161616">Mass/Charge, Da</text>
<text transform="translate(16.90,214.90) rotate(-90) scale(0.8086,1)" font-family='"Liberation Sans", Arial, sans-serif' font-weight="bold" font-size="16.72" class="s" fill="#161616" stroke="#161616">Intensity</text>
<text transform="translate(21.50,634.99) rotate(-90) scale(0.8200,1)" font-family='"Liberation Sans", Arial, sans-serif' font-weight="bold" font-size="18.02" class="s" fill="#161616" stroke="#161616">Intensity</text>
<text transform="translate(159.75,131.70) scale(1.3201,1)" font-family='"Liberation Serif", "Times New Roman", serif' font-weight="bold" font-size="13.60" fill="#151515" stroke="#151515">226.2002</text>
<text transform="translate(202.15,165.60) scale(1.3052,1)" font-family='"Liberation Serif", "Times New Roman", serif' font-weight="bold" font-size="13.60" fill="#151515" stroke="#151515">240.2161</text>
<text transform="translate(354.45,51.50) scale(1.3290,1)" font-family='"Liberation Serif", "Times New Roman", serif' font-weight="bold" font-size="13.60" fill="#151515" stroke="#151515">450.3866</text>
<text transform="translate(389.48,152.30) scale(1.3222,1)" font-family='"Liberation Serif", "Times New Roman", serif' font-weight="bold" font-size="13.60" fill="#151515" stroke="#151515">578.1483</text>
<text transform="translate(152.96,443.20) scale(1.2281,1)" font-family='"Liberation Serif", "Times New Roman", serif' font-weight="bold" font-size="14.40" fill="#151515" stroke="#151515">211.0990</text>
<text transform="translate(273.33,487.10) scale(1.2331,1)" font-family='"Liberation Serif", "Times New Roman", serif' font-weight="bold" font-size="14.40" fill="#151515" stroke="#151515">338.3416</text>
<text transform="translate(193.24,576.40) scale(1.2497,1)" font-family='"Liberation Serif", "Times New Roman", serif' font-weight="bold" font-size="14.40" fill="#151515" stroke="#151515">274.2746</text>
<text transform="translate(279.32,595.00) scale(1.2524,1)" font-family='"Liberation Serif", "Times New Roman", serif' font-weight="bold" font-size="14.40" fill="#151515" stroke="#151515">359.3149</text>
<text transform="translate(291.23,671.20) scale(1.2291,1)" font-family='"Liberation Serif", "Times New Roman", serif' font-weight="bold" font-size="14.40" fill="#151515" stroke="#151515">376.3413</text>
<text transform="translate(300.06,713.70) scale(1.2246,1)" font-family='"Liberation Serif", "Times New Roman", serif' font-weight="bold" font-size="14.40" fill="#151515" stroke="#151515">484.4708</text>
<text transform="translate(380.49,676.50) scale(1.2277,1)" font-family='"Liberation Serif", "Times New Roman", serif' font-weight="bold" font-size="14.40" fill="#151515" stroke="#151515">512.5008</text>
<text transform="translate(398.29,703.30) scale(1.2371,1)" font-family='"Liberation Serif", "Times New Roman", serif' font-weight="bold" font-size="14.40" fill="#151515" stroke="#151515">540.5318</text>
<text transform="translate(450.40,739.20) scale(1.2282,1)" font-family='"Liberation Serif", "Times New Roman", serif' font-weight="bold" font-size="14.40" fill="#151515" stroke="#151515">668.6136</text>
<text transform="translate(524.39,746.70) scale(1.2232,1)" font-family='"Liberation Serif", "Times New Roman", serif' font-weight="bold" font-size="14.40" fill="#151515" stroke="#151515">701.5685</text>
</svg></body></html>
